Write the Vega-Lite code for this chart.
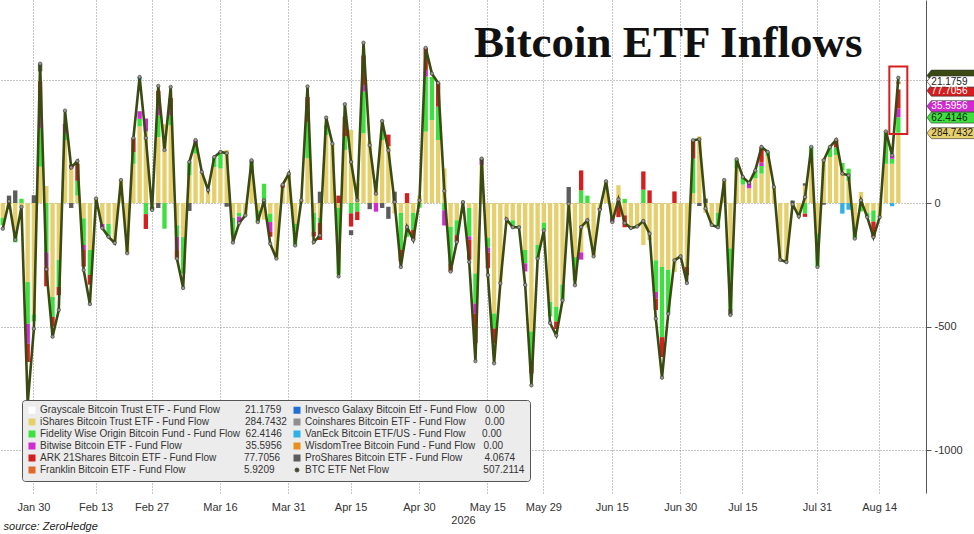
{
  "$schema": "https://vega.github.io/schema/vega-lite/v6.json",
  "width": 926,
  "height": 493,
  "autosize": {"type": "none"},
  "padding": {"left": 0, "top": 0, "right": 48, "bottom": 41},
  "background": "white",
  "config": {"view": {"stroke": null}, "font": "Liberation Sans"},
  "title": {"text": "source: ZeroHedge", "orient": "bottom", "anchor": "start", "frame": "bounds", "fontSize": 11, "fontStyle": "italic", "fontWeight": "normal", "font": "Liberation Sans", "color": "#222", "offset": -4, "dx": 6},
  "datasets": {
    "flows": [
      {"d":"2026-01-23","IBIT":-60,"FBTC":-30,"GBTC":-14,"net":-104},
      {"d":"2026-01-26","IBIT":-23,"BTF":30,"net":7},
      {"d":"2026-01-27","IBIT":-120,"FBTC":-40,"GBTC":-40,"BTF":51,"net":-149},
      {"d":"2026-01-28","IBIT":-20,"FBTC":17,"GBTC":-13,"net":-16},
      {"d":"2026-01-29","IBIT":-320,"FBTC":-169,"BITB":-81,"ARKB":-74,"GBTC":-169,"net":-813},
      {"d":"2026-01-30","IBIT":-450,"FBTC":-30,"GBTC":-60,"BTF":31,"net":-509},
      {"d":"2026-02-02","IBIT":147,"FBTC":156,"BITB":70,"ARKB":120,"GBTC":40,"BTF":31,"net":564},
      {"d":"2026-02-03","IBIT":69,"FBTC":-200,"BITB":-57,"ARKB":-80,"net":-268},
      {"d":"2026-02-04","IBIT":-380,"FBTC":-81,"ARKB":-40,"GBTC":-40,"net":-541},
      {"d":"2026-02-05","IBIT":-230,"FBTC":-110,"ARKB":-34,"GBTC":-59,"net":-433},
      {"d":"2026-02-06","IBIT":254,"FBTC":27,"BITB":40,"GBTC":53,"net":374},
      {"d":"2026-02-09","IBIT":140,"ARKB":15,"GBTC":9,"BTF":-20,"net":144},
      {"d":"2026-02-10","IBIT":30,"FBTC":60,"ARKB":70,"GBTC":10,"net":170},
      {"d":"2026-02-11","IBIT":-62,"FBTC":-108,"BITB":-20,"ARKB":-68,"GBTC":-13,"net":-271},
      {"d":"2026-02-12","IBIT":-190,"FBTC":-101,"ARKB":-40,"GBTC":-78,"net":-409},
      {"d":"2026-02-13","IBIT":18,"net":18},
      {"d":"2026-02-17","IBIT":-85,"BITB":-16,"net":-101},
      {"d":"2026-02-18","IBIT":-85,"FBTC":-52,"net":-137},
      {"d":"2026-02-19","IBIT":-162,"net":-162},
      {"d":"2026-02-20","IBIT":93,"net":93},
      {"d":"2026-02-23","IBIT":-203,"net":-203},
      {"d":"2026-02-24","IBIT":159,"FBTC":47,"ARKB":57,"net":263},
      {"d":"2026-02-25","IBIT":310,"FBTC":31,"BITB":31,"GBTC":128,"HODL":10,"net":510},
      {"d":"2026-02-26","IBIT":290,"FBTC":-45,"BITB":53,"ARKB":-60,"GBTC":25,"net":263},
      {"d":"2026-02-27","IBIT":-15,"BTF":-13,"net":-28},
      {"d":"2026-03-02","IBIT":267,"FBTC":88,"BITB":40,"ARKB":60,"GBTC":39,"BTF":-20,"net":474},
      {"d":"2026-03-03","IBIT":319,"FBTC":-104,"net":215},
      {"d":"2026-03-04","IBIT":315,"FBTC":40,"BITB":20,"ARKB":50,"GBTC":45,"net":470},
      {"d":"2026-03-05","IBIT":-90,"FBTC":-47,"BITB":-54,"ARKB":-34,"net":-225},
      {"d":"2026-03-06","IBIT":-138,"FBTC":-148,"GBTC":-58,"net":-344},
      {"d":"2026-03-09","IBIT":112,"FBTC":54,"GBTC":32,"BTF":-32,"net":166},
      {"d":"2026-03-10","IBIT":200,"FBTC":40,"BITB":15,"net":255},
      {"d":"2026-03-11","IBIT":126,"net":126},
      {"d":"2026-03-12","IBIT":53,"net":53},
      {"d":"2026-03-13","IBIT":146,"FBTC":40,"net":186},
      {"d":"2026-03-16","IBIT":140,"FBTC":62,"GBTC":5,"net":207},
      {"d":"2026-03-17","IBIT":215,"GBTC":2,"BTF":-15,"net":202},
      {"d":"2026-03-18","IBIT":-60,"FBTC":-70,"GBTC":-30,"net":-160},
      {"d":"2026-03-19","IBIT":-40,"FBTC":-15,"BITB":-26,"net":-81},
      {"d":"2026-03-20","IBIT":-50,"net":-50},
      {"d":"2026-03-23","IBIT":120,"FBTC":40,"BTF":13,"net":173},
      {"d":"2026-03-24","IBIT":-30,"FBTC":-47,"net":-77},
      {"d":"2026-03-25","IBIT":-67,"FBTC":78,"net":11},
      {"d":"2026-03-26","IBIT":-43,"FBTC":-34,"BITB":-40,"ARKB":-20,"GBTC":-28,"net":-165},
      {"d":"2026-03-27","IBIT":-225,"net":-225},
      {"d":"2026-03-30","IBIT":62,"ARKB":12,"net":74},
      {"d":"2026-03-31","IBIT":119,"net":119},
      {"d":"2026-04-01","IBIT":-84,"FBTC":-88,"net":-172},
      {"d":"2026-04-02","IBIT":11,"net":11},
      {"d":"2026-04-06","IBIT":181,"FBTC":148,"ARKB":100,"GBTC":43,"net":472},
      {"d":"2026-04-07","IBIT":-40,"FBTC":-76,"ARKB":-20,"GBTC":-22,"net":-158},
      {"d":"2026-04-08","IBIT":-60,"FBTC":-20,"ARKB":-70,"GBTC":-27,"BTF":46,"net":-131},
      {"d":"2026-04-09","IBIT":275,"FBTC":40,"GBTC":31,"net":346},
      {"d":"2026-04-10","IBIT":240,"net":240},
      {"d":"2026-04-13","IBIT":-20,"FBTC":-270,"ARKB":30,"GBTC":-37,"net":-297},
      {"d":"2026-04-14","IBIT":215,"FBTC":55,"ARKB":80,"GBTC":50,"net":400},
      {"d":"2026-04-15","IBIT":296,"FBTC":-42,"ARKB":-54,"GBTC":-14,"BTF":-20,"net":166},
      {"d":"2026-04-16","IBIT":80,"FBTC":-35,"ARKB":-34,"net":11},
      {"d":"2026-04-17","IBIT":282,"FBTC":169,"BITB":27,"ARKB":120,"GBTC":51,"net":649},
      {"d":"2026-04-20","IBIT":250,"GBTC":9,"BTF":-25,"net":234},
      {"d":"2026-04-21","IBIT":73,"BITB":-35,"net":38},
      {"d":"2026-04-22","IBIT":255,"FBTC":40,"GBTC":57,"BTF":-20,"net":332},
      {"d":"2026-04-23","IBIT":230,"ARKB":47,"GBTC":-15,"BTF":-49,"net":213},
      {"d":"2026-04-24","IBIT":-42,"BTF":46,"net":4},
      {"d":"2026-04-27","IBIT":-40,"FBTC":-150,"ARKB":-47,"GBTC":-22,"net":-259},
      {"d":"2026-04-28","IBIT":-110,"FBTC":-27,"ARKB":40,"net":-97},
      {"d":"2026-04-29","IBIT":-40,"FBTC":-69,"ARKB":-40,"net":-149},
      {"d":"2026-04-30","IBIT":30,"FBTC":-19,"net":11},
      {"d":"2026-05-01","IBIT":289,"FBTC":223,"BITB":27,"ARKB":89,"net":628},
      {"d":"2026-05-04","IBIT":336,"FBTC":175,"GBTC":13,"net":524},
      {"d":"2026-05-05","IBIT":255,"FBTC":135,"ARKB":96,"net":486},
      {"d":"2026-05-06","IBIT":140,"FBTC":-29,"BITB":-62,"net":49},
      {"d":"2026-05-07","IBIT":-96,"FBTC":-150,"ARKB":-31,"net":-277},
      {"d":"2026-05-08","IBIT":-70,"FBTC":-60,"ARKB":-28,"net":-158},
      {"d":"2026-05-11","IBIT":4,"net":4},
      {"d":"2026-05-12","IBIT":-20,"FBTC":-115,"BITB":-14,"ARKB":-81,"GBTC":-9,"net":-239},
      {"d":"2026-05-13","IBIT":-285,"FBTC":-122,"BITB":-41,"ARKB":-120,"GBTC":-72,"net":-640},
      {"d":"2026-05-14","IBIT":155,"BITB":15,"BTF":10,"net":180},
      {"d":"2026-05-15","IBIT":-140,"FBTC":-40,"BITB":-20,"ARKB":-65,"GBTC":-27,"net":-292},
      {"d":"2026-05-18","IBIT":-447,"FBTC":-61,"ARKB":-61,"GBTC":-80,"net":-649},
      {"d":"2026-05-19","IBIT":-325,"net":-325},
      {"d":"2026-05-20","IBIT":-66,"net":-66},
      {"d":"2026-05-21","IBIT":-70,"FBTC":-28,"net":-98},
      {"d":"2026-05-22","IBIT":-98,"net":-98},
      {"d":"2026-05-26","IBIT":-190,"FBTC":-54,"BITB":-34,"GBTC":-54,"net":-332},
      {"d":"2026-05-27","IBIT":-520,"FBTC":-120,"ARKB":-50,"GBTC":-48,"net":-738},
      {"d":"2026-05-28","IBIT":-170,"FBTC":-55,"net":-225},
      {"d":"2026-05-29","IBIT":-80,"FBTC":-31,"net":-111},
      {"d":"2026-06-01","IBIT":-400,"FBTC":-60,"GBTC":-26,"net":-486},
      {"d":"2026-06-02","IBIT":-420,"FBTC":-60,"ARKB":-30,"GBTC":-26,"net":-536},
      {"d":"2026-06-03","IBIT":-330,"FBTC":-64,"net":-394},
      {"d":"2026-06-04","IBIT":-68,"BTF":65,"net":-3},
      {"d":"2026-06-05","IBIT":-219,"FBTC":-94,"GBTC":-20,"net":-333},
      {"d":"2026-06-08","IBIT":-200,"FBTC":51,"BITB":-29,"ARKB":81,"net":-97},
      {"d":"2026-06-09","IBIT":-100,"FBTC":30,"net":-70},
      {"d":"2026-06-10","IBIT":-216,"net":-216},
      {"d":"2026-06-11","IBIT":-20,"ARKB":-7,"net":-27},
      {"d":"2026-06-12","IBIT":88,"net":88},
      {"d":"2026-06-15","IBIT":-60,"BITB":-17,"net":-77},
      {"d":"2026-06-16","IBIT":72,"ARKB":-57,"net":15},
      {"d":"2026-06-17","IBIT":-50,"FBTC":17,"ARKB":-48,"net":-81},
      {"d":"2026-06-18","IBIT":-101,"net":-101},
      {"d":"2026-06-19","IBIT":-95,"net":-95},
      {"d":"2026-06-22","IBIT":-171,"FBTC":54,"ARKB":74,"GBTC":-30,"net":-73},
      {"d":"2026-06-23","IBIT":-150,"ARKB":51,"GBTC":-25,"net":-124},
      {"d":"2026-06-24","IBIT":-232,"FBTC":-128,"BITB":-27,"ARKB":-47,"GBTC":-34,"net":-468},
      {"d":"2026-06-25","IBIT":-259,"FBTC":-284,"ARKB":-81,"GBTC":-83,"net":-707},
      {"d":"2026-06-26","IBIT":-270,"FBTC":-175,"GBTC":-3,"net":-448},
      {"d":"2026-06-29","IBIT":-279,"ARKB":47,"net":-232},
      {"d":"2026-06-30","IBIT":-216,"net":-216},
      {"d":"2026-07-01","IBIT":-259,"ARKB":-34,"GBTC":-31,"net":-324},
      {"d":"2026-07-02","IBIT":40,"FBTC":140,"ARKB":74,"net":254},
      {"d":"2026-07-06","IBIT":270,"BTF":-12,"net":258},
      {"d":"2026-07-07","IBIT":-40,"BTF":18,"net":-22},
      {"d":"2026-07-08","IBIT":-89,"net":-89},
      {"d":"2026-07-09","IBIT":-40,"FBTC":-58,"net":-98},
      {"d":"2026-07-10","IBIT":93,"net":93},
      {"d":"2026-07-13","IBIT":-184,"FBTC":-245,"BTF":-24,"net":-453},
      {"d":"2026-07-14","IBIT":140,"FBTC":37,"net":177},
      {"d":"2026-07-15","IBIT":75,"FBTC":30,"net":105},
      {"d":"2026-07-16","IBIT":60,"BITB":21,"net":81},
      {"d":"2026-07-17","IBIT":100,"FBTC":32,"net":132},
      {"d":"2026-07-20","IBIT":119,"FBTC":31,"BITB":14,"ARKB":63,"net":227},
      {"d":"2026-07-21","IBIT":190,"FBTC":17,"net":207},
      {"d":"2026-07-22","IBIT":65,"net":65},
      {"d":"2026-07-23","IBIT":-230,"net":-230},
      {"d":"2026-07-24","IBIT":-239,"net":-239},
      {"d":"2026-07-27","IBIT":-15,"BTF":10,"net":-5},
      {"d":"2026-07-28","IBIT":-54,"net":-54},
      {"d":"2026-07-29","IBIT":70,"FBTC":-43,"ARKB":-13,"BTF":10,"net":24},
      {"d":"2026-07-30","IBIT":175,"FBTC":52,"net":227},
      {"d":"2026-07-31","IBIT":-124,"FBTC":-135,"net":-259},
      {"d":"2026-08-03","IBIT":180,"BTF":-7,"net":173},
      {"d":"2026-08-04","IBIT":186,"FBTC":41,"net":227},
      {"d":"2026-08-05","IBIT":195,"FBTC":30,"ARKB":31,"net":256},
      {"d":"2026-08-06","IBIT":132,"FBTC":30,"HODL":-43,"net":119},
      {"d":"2026-08-07","IBIT":90,"FBTC":49,"HODL":-27,"net":112},
      {"d":"2026-08-10","IBIT":-100,"FBTC":-44,"net":-144},
      {"d":"2026-08-11","IBIT":45,"FBTC":-34,"net":11},
      {"d":"2026-08-12","IBIT":-40,"FBTC":-17,"net":-57},
      {"d":"2026-08-13","IBIT":-30,"FBTC":-45,"ARKB":-63,"net":-138},
      {"d":"2026-08-14","IBIT":-57,"net":-57},
      {"d":"2026-08-17","IBIT":159,"FBTC":131,"net":290},
      {"d":"2026-08-18","IBIT":159,"FBTC":20,"BITB":14,"GBTC":13,"HODL":-13,"net":193},
      {"d":"2026-08-19","IBIT":284.7432,"FBTC":62.4146,"BITB":35.5956,"ARKB":77.7056,"GBTC":21.1759,"EZBC":5.9209,"BTF":4.0674,"net":507.2114}
    ],
    "tags": [
      {"d":"2026-08-19","fund":"NET","lvl":516,"txt":""},
      {"d":"2026-08-19","fund":"IBIT","lvl":283,"txt":"284.7432"},
      {"d":"2026-08-19","fund":"FBTC","lvl":346,"txt":"62.4146"},
      {"d":"2026-08-19","fund":"BITB","lvl":392,"txt":"35.5956"},
      {"d":"2026-08-19","fund":"ARKB","lvl":455,"txt":"77.7056"},
      {"d":"2026-08-19","fund":"GBTC","lvl":492,"txt":"21.1759"}
    ],
    "highlight": [
      {"d":"2026-08-19","lo":279,"hi":553}
    ]
  },
  "encoding": {
    "x": {
      "field": "d",
      "type": "ordinal",
      "title": "2026",
      "scale": {"domain": {"unionWith": ["2026-08-20","2026-08-21","2026-08-24","2026-08-25"]}, "paddingInner": 0.3, "paddingOuter": 0.1, "round": false},
      "axis": {
        "values": ["2026-01-30","2026-02-13","2026-02-27","2026-03-16","2026-03-31","2026-04-15","2026-04-30","2026-05-15","2026-05-29","2026-06-15","2026-06-30","2026-07-15","2026-07-31","2026-08-14"],
        "labelExpr": "utcFormat(toDate(datum.value), '%b %d')",
        "labelAngle": 0,
        "bandPosition": 0.5,
        "grid": true,
        "gridDash": [1, 2],
        "gridColor": "#8c8c8c",
        "gridWidth": 1,
        "domain": false,
        "ticks": false,
        "labelFont": "Liberation Sans",
        "labelFontSize": 11,
        "labelColor": "#333",
        "labelPadding": 8,
        "titleFont": "Liberation Sans",
        "titleFontSize": 11,
        "titleFontWeight": "normal",
        "titleColor": "#333",
        "titlePadding": 2
      }
    }
  },
  "layer": [
    {
      "data": {"name": "flows"},
      "transform": [
        {"fold": ["IBIT","FBTC","BITB","ARKB","GBTC","BTF","HODL","EZBC"], "as": ["fund","flow"]},
        {"filter": "isValid(datum.flow) && datum.flow != 0"},
        {"calculate": "indexof(['IBIT','FBTC','BITB','ARKB','GBTC','EZBC','BTF','BRRR','HODL','BTCO','BTCW'], datum.fund)", "as": "ord"}
      ],
      "mark": {"type": "bar"},
      "encoding": {
        "y": {
          "field": "flow",
          "type": "quantitative",
          "stack": "zero",
          "title": "Bitcoin ETF Inflows",
          "scale": {"domain": [-1174, 822], "nice": false, "zero": false},
          "axis": {
            "orient": "right",
            "values": [-1000, -500, 0, 500],
            "labelExpr": "datum.value === 500 ? '' : '' + datum.value",
            "grid": true,
            "gridDash": [1, 2],
            "gridColor": "#8c8c8c",
            "domainColor": "#555",
            "tickColor": "#555",
            "tickSize": 5,
            "labelFont": "Liberation Sans",
            "labelFontSize": 11,
            "labelColor": "#333",
            "labelPadding": 3,
            "titleAngle": 0,
            "titleX": -64,
            "titleY": 56,
            "titleAlign": "right",
            "titleBaseline": "alphabetic",
            "titleFont": "Liberation Serif",
            "titleFontSize": 45,
            "titleFontWeight": "bold",
            "titleColor": "#111"
          }
        },
        "color": {
          "field": "fund",
          "type": "nominal",
          "scale": {
            "domain": ["GBTC","IBIT","FBTC","BITB","ARKB","EZBC","BTCO","BRRR","HODL","BTCW","BTF","NET"],
            "range": ["#ffffff","#e6d06e","#3ee03e","#d02ad0","#d31f1f","#e0682a","#1f6fd6","#8f8f8f","#2fb0e6","#e8901c","#5c5c5c","#3b4a12"]
          },
          "legend": {
            "orient": "none",
            "legendX": 22,
            "legendY": 400,
            "direction": "vertical",
            "columns": 2,
            "title": null,
            "fillColor": "#ececec",
            "strokeColor": "#555",
            "cornerRadius": 3,
            "padding": 5,
            "symbolType": "square",
            "symbolSize": 49,
            "labelFont": "Liberation Sans",
            "labelFontSize": 10,
            "labelColor": "#333",
            "labelLimit": 400,
            "labelOffset": 3,
            "rowPadding": 0,
            "columnPadding": 4,
            "labelExpr": "datum.value === 'GBTC' ? 'Grayscale Bitcoin Trust ETF - Fund Flow\u00a0\u00a0\u00a0\u00a0\u00a0\u00a0\u00a0\u00a0\u00a021.1759' : datum.value === 'IBIT' ? 'iShares Bitcoin Trust ETF - Fund Flow\u00a0\u00a0\u00a0\u00a0\u00a0\u00a0\u00a0\u00a0\u00a0\u00a0\u00a0\u00a0\u00a0284.7432' : datum.value === 'FBTC' ? 'Fidelity Wise Origin Bitcoin Fund - Fund Flow\u00a0\u00a062.4146' : datum.value === 'BITB' ? 'Bitwise Bitcoin ETF - Fund Flow\u00a0\u00a0\u00a0\u00a0\u00a0\u00a0\u00a0\u00a0\u00a0\u00a0\u00a0\u00a0\u00a0\u00a0\u00a0\u00a0\u00a0\u00a0\u00a0\u00a0\u00a0\u00a0\u00a035.5956' : datum.value === 'ARKB' ? 'ARK 21Shares Bitcoin ETF - Fund Flow\u00a0\u00a0\u00a0\u00a0\u00a0\u00a0\u00a0\u00a0\u00a0\u00a077.7056' : datum.value === 'EZBC' ? 'Franklin Bitcoin ETF - Fund Flow\u00a0\u00a0\u00a0\u00a0\u00a0\u00a0\u00a0\u00a0\u00a0\u00a0\u00a0\u00a0\u00a0\u00a0\u00a0\u00a0\u00a0\u00a0\u00a0\u00a0\u00a05.9209' : datum.value === 'BTCO' ? 'Invesco Galaxy Bitcoin Etf - Fund Flow\u00a0\u00a0\u00a00.00' : datum.value === 'BRRR' ? 'Coinshares Bitcoin ETF - Fund Flow\u00a0\u00a0\u00a0\u00a0\u00a0\u00a0\u00a00.00' : datum.value === 'HODL' ? 'VanEck Bitcoin ETF/US - Fund Flow\u00a0\u00a0\u00a0\u00a0\u00a0\u00a00.00' : datum.value === 'BTCW' ? 'WisdomTree Bitcoin Fund - Fund Flow\u00a0\u00a0\u00a00.00' : datum.value === 'BTF' ? 'ProShares Bitcoin ETF - Fund Flow\u00a0\u00a0\u00a0\u00a0\u00a0\u00a0\u00a0\u00a04.0674' : 'BTC ETF Net Flow\u00a0\u00a0\u00a0\u00a0\u00a0\u00a0\u00a0\u00a0\u00a0\u00a0\u00a0\u00a0\u00a0\u00a0\u00a0\u00a0\u00a0\u00a0\u00a0\u00a0\u00a0\u00a0\u00a0\u00a0\u00a0\u00a0\u00a0\u00a0\u00a0\u00a0\u00a0\u00a0\u00a0\u00a0507.2114'",
            "encode": {
              "symbols": {
                "update": {
                  "shape": {"signal": "datum.value === 'NET' ? 'circle' : 'square'"},
                  "size": {"signal": "datum.value === 'NET' ? 16 : 49"},
                  "fill": {"signal": "datum.value === 'NET' ? '#ffffff' : scale('color', datum.value)"},
                  "stroke": {"signal": "datum.value === 'NET' ? '#555555' : 'transparent'"},
                  "strokeWidth": {"value": 1},
                  "opacity": {"value": 1}
                }
              }
            }
          }
        },
        "order": {"field": "ord", "type": "quantitative"}
      }
    },
    {
      "data": {"name": "flows"},
      "mark": {
        "type": "line",
        "color": "#3b4a12",
        "strokeWidth": 2.6,
        "point": {"filled": true, "fill": "#9a9a8a", "stroke": "#333", "strokeWidth": 0.6, "size": 12}
      },
      "encoding": {
        "y": {"field": "net", "type": "quantitative", "title": "Bitcoin ETF Inflows", "scale": {"domain": [-1174, 822], "nice": false, "zero": false}}
      }
    },
    {
      "data": {"name": "highlight"},
      "mark": {"type": "bar", "width": 18, "fill": "transparent", "stroke": "#d42020", "strokeWidth": 2},
      "encoding": {
        "y": {"field": "lo", "type": "quantitative", "title": "Bitcoin ETF Inflows", "scale": {"domain": [-1174, 822], "nice": false, "zero": false}},
        "y2": {"field": "hi"}
      }
    },
    {
      "data": {"name": "tags"},
      "mark": {"type": "point", "filled": true, "opacity": 1, "shape": "M2.6,0 L3.0,-0.5 L7.0,-0.5 L7.0,0.5 L3.0,0.5 Z", "size": 484, "stroke": "#333", "strokeWidth": 0.6},
      "encoding": {
        "y": {"field": "lvl", "type": "quantitative", "title": "Bitcoin ETF Inflows", "scale": {"domain": [-1174, 822], "nice": false, "zero": false}},
        "color": {
          "field": "fund",
          "type": "nominal",
          "scale": {
            "domain": ["GBTC","IBIT","FBTC","BITB","ARKB","EZBC","BTCO","BRRR","HODL","BTCW","BTF","NET"],
            "range": ["#ffffff","#e6d06e","#3ee03e","#d02ad0","#d31f1f","#e0682a","#1f6fd6","#8f8f8f","#2fb0e6","#e8901c","#5c5c5c","#3b4a12"]
          }
        }
      }
    },
    {
      "data": {"name": "tags"},
      "transform": [{"filter": "datum.txt != ''"}],
      "mark": {"type": "text", "align": "left", "baseline": "middle", "dx": 33, "fontSize": 10, "font": "Liberation Sans"},
      "encoding": {
        "y": {"field": "lvl", "type": "quantitative", "title": "Bitcoin ETF Inflows", "scale": {"domain": [-1174, 822], "nice": false, "zero": false}},
        "text": {"field": "txt"},
        "color": {"condition": {"test": "datum.fund === 'ARKB' || datum.fund === 'BITB'", "value": "#ffffff"}, "value": "#1a1a1a"}
      }
    }
  ]
}
